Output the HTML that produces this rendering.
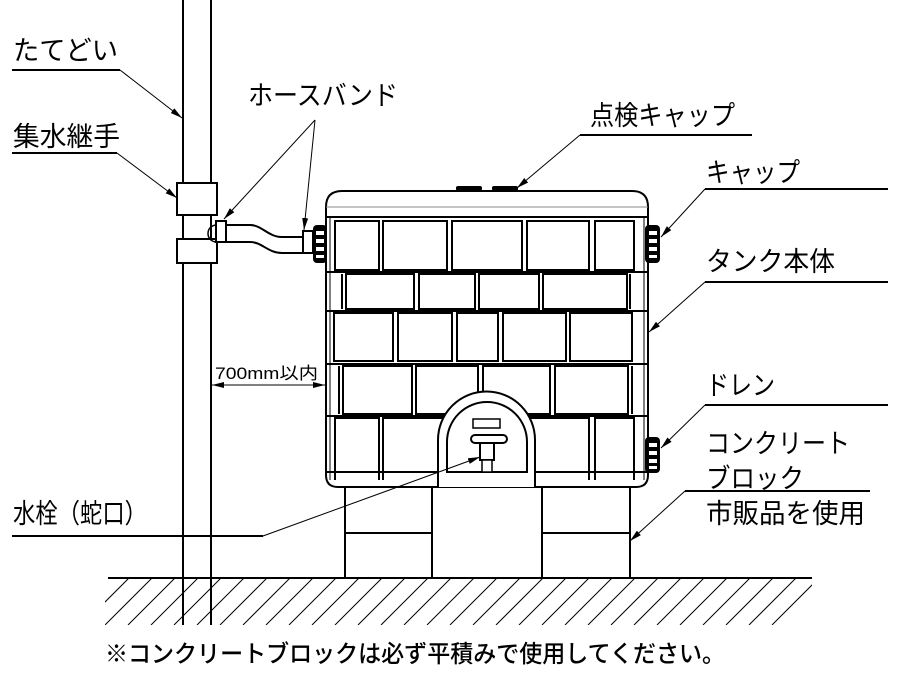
<!DOCTYPE html>
<html><head><meta charset="utf-8"><style>
html,body{margin:0;padding:0;background:#fff;}
svg{display:block;}
text{font-family:"Liberation Sans","Noto Sans CJK JP",sans-serif;fill:#000;}
</style></head><body>
<svg width="900" height="690" viewBox="0 0 900 690" xmlns="http://www.w3.org/2000/svg">
<defs>
<marker id="ah" markerWidth="12" markerHeight="6" refX="12" refY="3" orient="auto" markerUnits="userSpaceOnUse">
<path d="M0,0 L12,3 L0,6 Z" fill="#000"/></marker>
<marker id="ahs" markerWidth="12" markerHeight="6" refX="0" refY="3" orient="auto" markerUnits="userSpaceOnUse">
<path d="M12,0 L0,3 L12,6 Z" fill="#000"/></marker>
<clipPath id="gc"><rect x="105" y="578" width="707" height="47"/></clipPath>
</defs>

<line x1="108" y1="578" x2="812" y2="578" stroke="#000" stroke-width="2"/>
<g clip-path="url(#gc)" stroke="#000" stroke-width="1">
<path d="M105,625 l47,-47 M128,625 l47,-47 M151,625 l47,-47 M174,625 l47,-47 M197,625 l47,-47 M220,625 l47,-47 M243,625 l47,-47 M266,625 l47,-47 M289,625 l47,-47 M312,625 l47,-47 M335,625 l47,-47 M358,625 l47,-47 M381,625 l47,-47 M404,625 l47,-47 M427,625 l47,-47 M450,625 l47,-47 M473,625 l47,-47 M496,625 l47,-47 M519,625 l47,-47 M542,625 l47,-47 M565,625 l47,-47 M588,625 l47,-47 M611,625 l47,-47 M634,625 l47,-47 M657,625 l47,-47 M680,625 l47,-47 M703,625 l47,-47 M726,625 l47,-47 M749,625 l47,-47 M772,625 l47,-47 M82,625 l47,-47"/>
</g>

<line x1="183" y1="0" x2="183" y2="625" stroke="#000" stroke-width="2"/>
<line x1="211" y1="0" x2="211" y2="625" stroke="#000" stroke-width="2"/>
<rect x="177" y="183" width="40" height="32" fill="#fff" stroke="#000" stroke-width="2"/>
<rect x="177" y="239" width="40" height="24" fill="#fff" stroke="#000" stroke-width="2"/>

<path d="M217,225 L250,225 C262,225 268,237 282,237 L305,237" fill="none" stroke="#000" stroke-width="2"/>
<path d="M217,242 L250,242 C262,242 268,253 282,253 L305,253" fill="none" stroke="#000" stroke-width="2"/>
<path d="M217,225 C205,225 205,242 217,242" fill="none" stroke="#000" stroke-width="1.5"/>
<rect x="216" y="221" width="10" height="21" fill="#fff" stroke="#000" stroke-width="2"/>
<rect x="303" y="231" width="10" height="22" fill="#fff" stroke="#000" stroke-width="2"/>

<g stroke="#000" stroke-width="2" fill="none">
<rect x="345" y="487" width="87" height="91"/>
<rect x="542" y="487" width="88" height="91"/>
<line x1="345" y1="533" x2="432" y2="533"/>
<line x1="542" y1="533" x2="630" y2="533"/>
</g>

<path d="M326,207 Q326,191 342,191 L632,191 Q648,191 648,207 L648,475 Q648,487 636,487 L338,487 Q326,487 326,475 Z" fill="#fff" stroke="#000" stroke-width="2"/>
<line x1="326" y1="207" x2="648" y2="207" stroke="#888" stroke-width="1"/>
<line x1="326" y1="217" x2="648" y2="217" stroke="#000" stroke-width="2"/>
<line x1="330" y1="217" x2="330" y2="480" stroke="#000" stroke-width="1"/>
<line x1="644" y1="217" x2="644" y2="480" stroke="#000" stroke-width="1"/>
<g stroke="#000" stroke-width="2" fill="none">
<line x1="326" y1="272" x2="648" y2="272"/>
<line x1="326" y1="311" x2="648" y2="311"/>
<line x1="326" y1="364" x2="648" y2="364"/>
<line x1="326" y1="416" x2="648" y2="416"/>
<line x1="326" y1="472" x2="648" y2="472"/>
<rect x="335" y="221" width="44" height="49"/>
<rect x="383" y="221" width="64" height="49"/>
<rect x="452" y="221" width="70" height="49"/>
<rect x="527" y="221" width="62" height="49"/>
<rect x="595" y="221" width="39" height="49"/>
<rect x="346" y="274" width="68" height="35"/>
<rect x="419" y="274" width="56" height="35"/>
<rect x="479" y="274" width="60" height="35"/>
<rect x="543" y="274" width="84" height="35"/>
<line x1="342" y1="274" x2="342" y2="309"/>
<line x1="630" y1="274" x2="630" y2="309"/>
<rect x="334" y="313" width="59" height="48"/>
<rect x="398" y="313" width="54" height="48"/>
<rect x="457" y="313" width="41" height="48"/>
<rect x="503" y="313" width="63" height="48"/>
<rect x="570" y="313" width="62" height="48"/>
<rect x="343" y="366" width="69" height="48"/>
<rect x="416" y="366" width="62" height="48"/>
<rect x="483" y="366" width="67" height="48"/>
<rect x="555" y="366" width="73" height="48"/>
<line x1="339" y1="366" x2="339" y2="414"/>
<line x1="632" y1="366" x2="632" y2="414"/>
<path d="M335,480 L335,418 L379,418 L379,480"/>
<path d="M383,480 L383,418 L445,418"/>
<path d="M528,418 L589,418 L589,480"/>
<path d="M595,480 L595,418 L634,418 L634,480"/>
</g>
<path d="M438,487 L438,440 A48.5,48.5 0 0 1 535,440 L535,487" fill="#fff" stroke="#000" stroke-width="2"/>
<path d="M447,472 L447,442 A40,40 0 0 1 527,442 L527,472 Z" fill="#fff" stroke="#000" stroke-width="2"/>
<rect x="473" y="419" width="27" height="9" fill="#fff" stroke="#000" stroke-width="1.5"/>
<rect x="471" y="435" width="36" height="8" rx="4" fill="#fff" stroke="#000" stroke-width="2"/>
<rect x="480" y="443" width="14" height="17" fill="#fff" stroke="#000" stroke-width="2"/>
<rect x="482" y="460" width="10" height="12" fill="#fff" stroke="#000" stroke-width="1.5"/>
<rect x="456" y="186" width="26" height="5" rx="2" fill="#000"/>
<rect x="492" y="186" width="26" height="5" rx="2" fill="#000"/>
<g>
<rect x="645" y="225" width="15" height="38" rx="4" fill="#000"/>
<rect x="649" y="231" width="8" height="4" fill="#fff"/><rect x="649" y="239" width="8" height="4" fill="#fff"/><rect x="649" y="247" width="8" height="4" fill="#fff"/><rect x="649" y="255" width="8" height="3" fill="#fff"/>
<rect x="313" y="225" width="14" height="38" rx="4" fill="#000"/>
<rect x="316" y="231" width="8" height="4" fill="#fff"/><rect x="316" y="239" width="8" height="4" fill="#fff"/><rect x="316" y="247" width="8" height="4" fill="#fff"/><rect x="316" y="255" width="8" height="3" fill="#fff"/>
<rect x="645" y="437" width="15" height="36" rx="4" fill="#000"/>
<rect x="649" y="443" width="8" height="4" fill="#fff"/><rect x="649" y="451" width="8" height="4" fill="#fff"/><rect x="649" y="459" width="8" height="4" fill="#fff"/><rect x="649" y="466" width="8" height="3" fill="#fff"/>
</g>

<line x1="212" y1="385" x2="325" y2="385" stroke="#000" stroke-width="1" marker-start="url(#ahs)" marker-end="url(#ah)"/>
<text x="215" y="379" font-size="17" textLength="103" lengthAdjust="spacingAndGlyphs">700mm以内</text>

<g stroke="#000" stroke-width="2">
<line x1="12" y1="70" x2="120" y2="70"/>
<line x1="12" y1="153" x2="117" y2="153"/>
<line x1="580" y1="135" x2="752" y2="135"/>
<line x1="705" y1="189" x2="888" y2="189"/>
<line x1="705" y1="282" x2="888" y2="282"/>
<line x1="705" y1="405" x2="888" y2="405"/>
<line x1="685" y1="491" x2="870" y2="491"/>
<line x1="12" y1="536" x2="263" y2="536"/>
</g>
<g stroke="#000" stroke-width="1" fill="none" marker-end="url(#ah)">
<line x1="120" y1="70" x2="182" y2="118"/>
<line x1="117" y1="153" x2="177" y2="198"/>
<line x1="315" y1="120" x2="224" y2="219"/>
<line x1="315" y1="120" x2="304" y2="230"/>
<line x1="580" y1="135" x2="517" y2="188"/>
<line x1="705" y1="189" x2="661" y2="237"/>
<line x1="705" y1="282" x2="649" y2="332"/>
<line x1="705" y1="405" x2="661" y2="448"/>
<line x1="685" y1="491" x2="630" y2="541"/>
<line x1="263" y1="536" x2="480" y2="457"/>
</g>

<g font-size="27" lengthAdjust="spacingAndGlyphs">
<text x="13" y="60" textLength="105" lengthAdjust="spacingAndGlyphs">たてどい</text>
<text x="13" y="146" textLength="107" lengthAdjust="spacingAndGlyphs">集水継手</text>
<text x="248" y="105" textLength="150" lengthAdjust="spacingAndGlyphs">ホースバンド</text>
<text x="590" y="125" textLength="145" lengthAdjust="spacingAndGlyphs">点検キャップ</text>
<text x="706" y="182" textLength="94" lengthAdjust="spacingAndGlyphs">キャップ</text>
<text x="706" y="271" textLength="129" lengthAdjust="spacingAndGlyphs">タンク本体</text>
<text x="706" y="395" textLength="69" lengthAdjust="spacingAndGlyphs">ドレン</text>
<text x="706" y="453" textLength="144" lengthAdjust="spacingAndGlyphs">コンクリート</text>
<text x="706" y="488" textLength="98" lengthAdjust="spacingAndGlyphs">ブロック</text>
<text x="706" y="523" textLength="159" lengthAdjust="spacingAndGlyphs">市販品を使用</text>
<text x="13" y="523" textLength="134" lengthAdjust="spacingAndGlyphs">水栓（蛇口）</text>
</g>
<text x="105" y="662" font-size="24" font-weight="500" textLength="620" lengthAdjust="spacingAndGlyphs">※コンクリートブロックは必ず平積みで使用してください。</text>
</svg>
</body></html>
